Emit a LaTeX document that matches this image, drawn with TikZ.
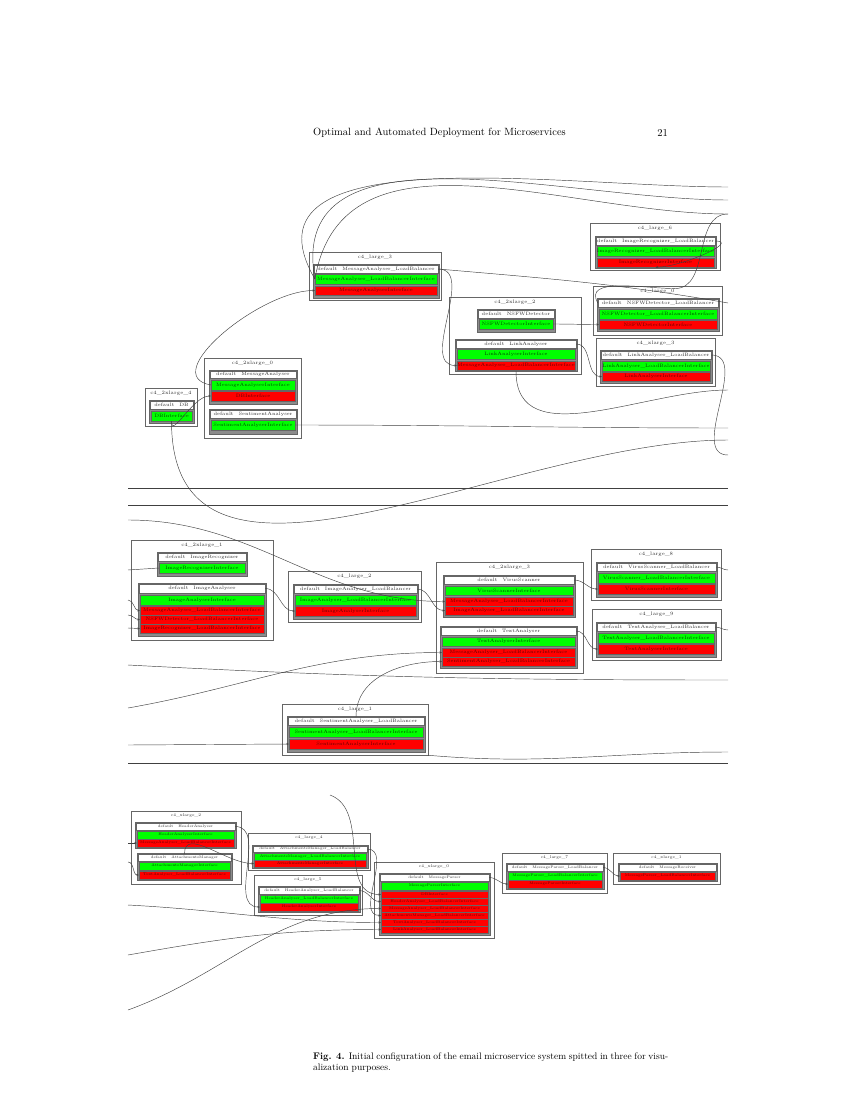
\documentclass[tikz,border=0pt]{standalone}
\usetikzlibrary{arrows.meta}
\tikzset{
  machinebox/.style={draw=black!60,line width=0.5pt,inner sep=0pt},
  machtitle/.style={font=\fontsize{5}{5}\selectfont,inner sep=0pt,text=black!80},
  compbox/.style={draw=black!60,fill=black!45,line width=0.4pt,inner sep=0pt},
  slot/.style={draw=black!60,line width=0.3pt,inner sep=0pt,font=\fontsize{4.8}{5}\selectfont},
  hdr/.style={fill=white,text=black!80},
  prov/.style={fill=green,text=green!30!black},
  req/.style={fill=red,text=red!40!black},
  wire/.style={draw=black!75,line width=0.45pt,-{Stealth[length=2.5pt,width=2pt]}},
  line/.style={draw=black!75,line width=0.45pt}
}
% machine: name, x1, y1, x2, y2, title
\newcommand\machine[6]{%
  \node[machinebox,minimum width={#4-#2},minimum height={#5-#3}] (#1) at ({(#2+#4)/2},{(#3+#5)/2}) {};
  \node[machtitle] (#1-t) at ({(#2+#4)/2},{#3+5}) {#6};}
\newcommand\comp[5]{%
  \node[compbox,minimum width={#4-#2},minimum height={#5-#3}] (#1) at ({(#2+#4)/2},{(#3+#5)/2}) {};}
\newcommand\slot[7]{%
  \node[slot,#6,minimum width={#4-#2},minimum height={#5-#3}] (#1) at ({(#2+#4)/2},{(#3+#5)/2}) {#7};}
\newcommand\dd{\hspace{5pt}}
\begin{document}
\begin{tikzpicture}[x=1pt,y=-1pt]
\useasboundingbox (0,0) rectangle (850,1100);
\node[font=\fontsize{10.5}{12}\selectfont,anchor=west,inner sep=0pt] (head) at (313,133) {Optimal and Automated Deployment for Microservices};
\node[font=\fontsize{10.5}{12}\selectfont,anchor=east,inner sep=0pt] (pageno) at (668,133) {21};

% ---- part one
\machine{L3}{309}{252}{441}{300}{c4\_large\_3}
\comp{L3c}{313}{264}{439}{298}
\slot{L3h}{314}{265}{438}{273}{hdr}{default\dd MessageAnalyser\_LoadBalancer}
\slot{L3g}{315}{274}{437}{284}{prov}{MessageAnalyser\_LoadBalancerInterface}
\slot{L3r}{315}{286}{437}{295}{req}{MessageAnalyserInterface}

\machine{XX0}{204}{358}{301}{438}{c4\_2xlarge\_0}
\comp{XX0a}{209}{370}{297}{404}
\slot{XX0ah}{210}{371}{296}{378}{hdr}{default\dd MessageAnalyser}
\slot{XX0ag}{211}{380}{295}{390}{prov}{MessageAnalyserInterface}
\slot{XX0ar}{211}{391}{295}{401}{req}{DBInterface}
\comp{XX0b}{209}{409}{297}{434}
\slot{XX0bh}{210}{410}{296}{418}{hdr}{default\dd SentimentAnalyser}
\slot{XX0bg}{211}{420}{295}{430}{prov}{SentimentAnalyserInterface}

\machine{XX4}{145}{388}{197}{426}{c4\_2xlarge\_4}
\comp{XX4c}{149}{400}{194}{423}
\slot{XX4h}{150}{401}{193}{409}{hdr}{default\dd DB}
\slot{XX4g}{151}{411}{192}{421}{prov}{DBInterface}

\machine{XX2}{449}{297}{581}{374}{c4\_2xlarge\_2}
\comp{XX2a}{477}{309}{555}{332}
\slot{XX2ah}{478}{310}{554}{318}{hdr}{default\dd NSFWDetector}
\slot{XX2ag}{479}{319}{553}{329}{prov}{NSFWDetectorInterface}
\comp{XX2b}{455}{339}{577}{371}
\slot{XX2bh}{456}{340}{576}{348}{hdr}{default\dd LinkAnalyser}
\slot{XX2bg}{457}{349}{575}{359}{prov}{LinkAnalyserInterface}
\slot{XX2br}{457}{361}{575}{370}{req}{MessageAnalyser\_LoadBalancerInterface}

\machine{L6}{590}{223}{720}{270}{c4\_large\_6}
\comp{L6c}{595}{236}{716}{268}
\slot{L6h}{596}{237}{715}{245}{hdr}{default\dd ImageRecognizer\_LoadBalancer}
\slot{L6g}{597}{246}{714}{256}{prov}{ImageRecognizer\_LoadBalancerInterface}
\slot{L6r}{597}{258}{714}{267}{req}{ImageRecognizerInterface}

\machine{L0}{593}{286}{722}{335}{c4\_large\_0}
\comp{L0c}{597}{298}{719}{331}
\slot{L0h}{598}{299}{718}{307}{hdr}{default\dd NSFWDetector\_LoadBalancer}
\slot{L0g}{599}{309}{717}{319}{prov}{NSFWDetector\_LoadBalancerInterface}
\slot{L0r}{599}{320}{717}{329}{req}{NSFWDetectorInterface}

\machine{X3}{596}{338}{715}{386}{c4\_xlarge\_3}
\comp{X3c}{600}{350}{712}{383}
\slot{X3h}{601}{351}{711}{359}{hdr}{default\dd LinkAnalyser\_LoadBalancer}
\slot{X3g}{602}{361}{710}{371}{prov}{LinkAnalyser\_LoadBalancerInterface}
\slot{X3r}{602}{372}{710}{381}{req}{LinkAnalyserInterface}

\coordinate (e1) at (728,187);
\coordinate (e2) at (728,200);
\coordinate (e3) at (728,214);
\coordinate (e4) at (728,428);
\coordinate (e5) at (728,440);
\coordinate (e6) at (728,455);
\coordinate (e7) at (728,303);
\coordinate (e8) at (728,390);
\draw[wire] (XX4g.south) to[out=-90,in=180] (XX0ar.west);
\draw[wire] (XX0ag.west) to[out=170,in=180] (L3r.west);
\draw[line] (L3g.west) to[out=120,in=180] (e1);
\draw[line] (L3g.west) to[out=100,in=180] (e2);
\draw[line] (L3g.west) to[out=80,in=180] (e3);
\draw[wire] (L3h.east) to[out=0,in=180] (XX2br.west);
\draw[line] (L3h.east) to[out=-5,in=170] (e7);
\draw[wire] (XX2ag.east) to[out=0,in=180] (L0r.west);
\draw[wire] (XX2bh.east) to[out=0,in=180] (X3r.west);
\draw[line] (XX0bg.east) to[out=0,in=180] (e4);
\draw[line] (XX4g.south) to[out=-90,in=180] (e5);
\draw[line] (XX2b.south) to[out=-90,in=180] (e8);
\draw[wire] (L6h.east) to[out=0,in=0] (L6r.south);
\draw[line] (L0h.west) to[out=120,in=180] (L0-t.north east);
\draw[line] (L0-t.north east) to[out=0,in=180] (e3);
\draw[line] (X3h.east) to[out=0,in=180] (e6);
\draw[line] (128,488) -- (728,488);
\draw[line] (128,505) -- (728,505);

% ---- part two
\machine{XX1}{131}{540}{273}{640}{c4\_2xlarge\_1}
\comp{XX1a}{157}{552}{247}{576}
\slot{XX1ah}{158}{553}{246}{561}{hdr}{default\dd ImageRecognizer}
\slot{XX1ag}{159}{563}{245}{573}{prov}{ImageRecognizerInterface}
\comp{XX1b}{138}{583}{266}{636}
\slot{XX1bh}{139}{584}{265}{593}{hdr}{default\dd ImageAnalyser}
\slot{XX1bg}{140}{595}{264}{605}{prov}{ImageAnalyserInterface}
\slot{XX1br1}{140}{606}{264}{615}{req}{MessageAnalyser\_LoadBalancerInterface}
\slot{XX1br2}{140}{615}{264}{624}{req}{NSFWDetector\_LoadBalancerInterface}
\slot{XX1br3}{140}{624}{264}{633}{req}{ImageRecognizer\_LoadBalancerInterface}

\machine{L2}{288}{571}{421}{622}{c4\_large\_2}
\comp{L2c}{293}{584}{418}{619}
\slot{L2h}{294}{585}{417}{593}{hdr}{default\dd ImageAnalyser\_LoadBalancer}
\slot{L2g}{295}{595}{416}{605}{prov}{ImageAnalyser\_LoadBalancerInterface}
\slot{L2r}{295}{606}{416}{616}{req}{ImageAnalyserInterface}

\machine{XX3}{436}{562}{583}{673}{c4\_2xlarge\_3}
\comp{XX3a}{443}{575}{575}{617}
\slot{XX3ah}{444}{576}{574}{584}{hdr}{default\dd VirusScanner}
\slot{XX3ag}{445}{586}{573}{595}{prov}{VirusScannerInterface}
\slot{XX3ar1}{445}{597}{573}{606}{req}{MessageAnalyser\_LoadBalancerInterface}
\slot{XX3ar2}{445}{606}{573}{615}{req}{ImageAnalyser\_LoadBalancerInterface}
\comp{XX3b}{440}{626}{577}{668}
\slot{XX3bh}{441}{627}{576}{635}{hdr}{default\dd TextAnalyser}
\slot{XX3bg}{442}{637}{575}{646}{prov}{TextAnalyserInterface}
\slot{XX3br1}{442}{648}{575}{657}{req}{MessageAnalyser\_LoadBalancerInterface}
\slot{XX3br2}{442}{657}{575}{666}{req}{SentimentAnalyser\_LoadBalancerInterface}

\machine{L8}{591}{549}{721}{600}{c4\_large\_8}
\comp{L8c}{596}{562}{717}{597}
\slot{L8h}{597}{563}{716}{571}{hdr}{default\dd VirusScanner\_LoadBalancer}
\slot{L8g}{598}{573}{715}{583}{prov}{VirusScanner\_LoadBalancerInterface}
\slot{L8r}{598}{584}{715}{594}{req}{VirusScannerInterface}

\machine{L9}{592}{609}{721}{660}{c4\_large\_9}
\comp{L9c}{596}{622}{716}{657}
\slot{L9h}{597}{623}{715}{631}{hdr}{default\dd TextAnalyser\_LoadBalancer}
\slot{L9g}{598}{633}{714}{643}{prov}{TextAnalyser\_LoadBalancerInterface}
\slot{L9r}{598}{644}{714}{654}{req}{TextAnalyserInterface}

\machine{L1}{282}{704}{428}{755}{c4\_large\_1}
\comp{L1c}{287}{716}{425}{752}
\slot{L1h}{288}{717}{424}{725}{hdr}{default\dd SentimentAnalyser\_LoadBalancer}
\slot{L1g}{289}{727}{423}{737}{prov}{SentimentAnalyser\_LoadBalancerInterface}
\slot{L1r}{289}{739}{423}{749}{req}{SentimentAnalyserInterface}

\coordinate (w1) at (128,570);
\coordinate (w2) at (128,600);
\coordinate (w3) at (128,615);
\coordinate (w4) at (128,628);
\coordinate (w5) at (128,665);
\coordinate (w6) at (128,708);
\coordinate (w7) at (128,745);
\coordinate (w8) at (128,520);
\coordinate (r1) at (728,570);
\coordinate (r2) at (728,630);
\coordinate (r3) at (728,680);
\coordinate (r4) at (728,752);
\draw[line] (w1) -- (XX1ag.west);
\draw[wire] (w2) to[out=0,in=180] (XX1br1.west);
\draw[wire] (w3) to[out=0,in=180] (XX1br2.west);
\draw[wire] (w4) to[out=0,in=180] (XX1br3.west);
\draw[wire] (XX1bh.east) to[out=0,in=180] (L2r.west);
\draw[wire] (L2h.east) to[out=0,in=180] (XX3ar2.west);
\draw[wire] (w8) to[out=0,in=180] (XX3ar1.west);
\draw[wire] (XX3ah.east) to[out=0,in=180] (L8r.west);
\draw[wire] (XX3bh.east) to[out=0,in=180] (L9r.west);
\draw[wire] (L1h.north) to[out=90,in=180] (XX3br2.west);
\draw[line] (w5) to[out=-3,in=180] (r3);
\draw[wire] (w6) to[out=10,in=180] (XX3br1.west);
\draw[wire] (w7) -- (L1r.west);
\draw[line] (L8h.east) to[out=0,in=180] (r1);
\draw[line] (L9h.east) to[out=0,in=180] (r2);
\draw[line] (L1.south east) to[out=-5,in=180] (r4);
\draw[line] (128,763) -- (728,763);

% ---- part three
\begin{scope}[slot/.append style={font=\fontsize{3.7}{4}\selectfont},
  machtitle/.append style={font=\fontsize{4}{4}\selectfont}]
\machine{X2}{131}{811}{241}{884}{c4\_xlarge\_2}
\comp{X2a}{135}{822}{236}{848}
\slot{X2ah}{136}{823}{235}{830}{hdr}{default\dd HeaderAnalyser}
\slot{X2ag}{137}{831}{234}{839}{prov}{HeaderAnalyserInterface}
\slot{X2ar}{137}{839}{234}{847}{req}{MessageAnalyser\_LoadBalancerInterface}
\comp{X2b}{137}{853}{232}{880}
\slot{X2bh}{138}{854}{231}{861}{hdr}{default\dd AttachmentsManager}
\slot{X2bg}{139}{862}{230}{870}{prov}{AttachmentsManagerInterface}
\slot{X2br}{139}{871}{230}{879}{req}{TextAnalyser\_LoadBalancerInterface}

\machine{L4}{248}{833}{370}{870}{c4\_large\_4}
\comp{L4c}{252}{845}{368}{868}
\slot{L4h}{253}{846}{367}{852}{hdr}{default\dd AttachmentsManager\_LoadBalancer}
\slot{L4g}{254}{853}{366}{860}{prov}{AttachmentsManager\_LoadBalancerInterface}
\slot{L4r}{254}{860}{366}{867}{req}{AttachmentsManagerInterface}

\machine{L5}{254}{875}{362}{915}{c4\_large\_5}
\comp{L5c}{258}{886}{360}{912}
\slot{L5h}{259}{887}{359}{894}{hdr}{default\dd HeaderAnalyser\_LoadBalancer}
\slot{L5g}{260}{895}{358}{903}{prov}{HeaderAnalyser\_LoadBalancerInterface}
\slot{L5r}{260}{903}{358}{911}{req}{HeaderAnalyserInterface}

\machine{X0}{374}{862}{494}{938}{c4\_xlarge\_0}
\comp{X0c}{379}{873}{490}{935}
\slot{X0h}{380}{874}{489}{881}{hdr}{default\dd MessageParser}
\slot{X0g}{381}{882}{488}{890}{prov}{MessageParserInterface}
\slot{X0r1}{381}{891}{488}{898}{req}{DBInterface}
\slot{X0r2}{381}{898}{488}{905}{req}{HeaderAnalyser\_LoadBalancerInterface}
\slot{X0r3}{381}{905}{488}{912}{req}{MessageAnalyser\_LoadBalancerInterface}
\slot{X0r4}{381}{912}{488}{919}{req}{AttachmentsManager\_LoadBalancerInterface}
\slot{X0r5}{381}{919}{488}{926}{req}{TextAnalyser\_LoadBalancerInterface}
\slot{X0r6}{381}{926}{488}{933}{req}{LinkAnalyser\_LoadBalancerInterface}

\machine{L7}{502}{853}{607}{893}{c4\_large\_7}
\comp{L7c}{506}{863}{604}{889}
\slot{L7h}{507}{864}{603}{871}{hdr}{default\dd MessageParser\_LoadBalancer}
\slot{L7g}{508}{872}{602}{880}{prov}{MessageParser\_LoadBalancerInterface}
\slot{L7r}{508}{880}{602}{888}{req}{MessageParserInterface}

\machine{X1}{613}{853}{720}{884}{c4\_xlarge\_1}
\comp{X1c}{618}{863}{717}{881}
\slot{X1h}{619}{864}{716}{871}{hdr}{default\dd MessageReceiver}
\slot{X1r}{620}{872}{715}{880}{req}{MessageParser\_LoadBalancerInterface}
\end{scope}

\coordinate (s1) at (128,843);
\coordinate (s2) at (128,862);
\coordinate (s3) at (128,905);
\coordinate (s4) at (128,955);
\coordinate (s5) at (128,1010);
\coordinate (s6) at (330,795);
\draw[wire] (s1) -- (X2ar.west);
\draw[wire] (s2) to[out=0,in=180] (X2br.west);
\draw[wire] (X2bh.north) to[out=90,in=180] (L4r.west);
\draw[wire] (X2ah.east) to[out=0,in=180] (L5r.west);
\draw[wire] (L4h.east) to[out=0,in=180] (X0r4.west);
\draw[wire] (L5h.east) to[out=0,in=180] (X0r2.west);
\draw[wire] (s6) to[out=-20,in=180] (X0r1.west);
\draw[wire] (s3) to[out=-3,in=180] (X0r5.west);
\draw[wire] (s4) to[out=10,in=180] (X0r6.west);
\draw[wire] (s5) to[out=20,in=180] (X0r3.west);
\draw[wire] (X0h.east) to[out=0,in=180] (L7r.west);
\draw[wire] (L7h.east) to[out=0,in=180] (X1r.west);

\node[font=\fontsize{9.5}{11}\selectfont,anchor=north west,text width=355pt,align=justify,inner sep=0pt] (caption) at (313,1053)
  {\textbf{Fig. 4.} Initial configuration of the email microservice system spitted in three for visu-\linebreak alization purposes.};
\end{tikzpicture}
\end{document}
